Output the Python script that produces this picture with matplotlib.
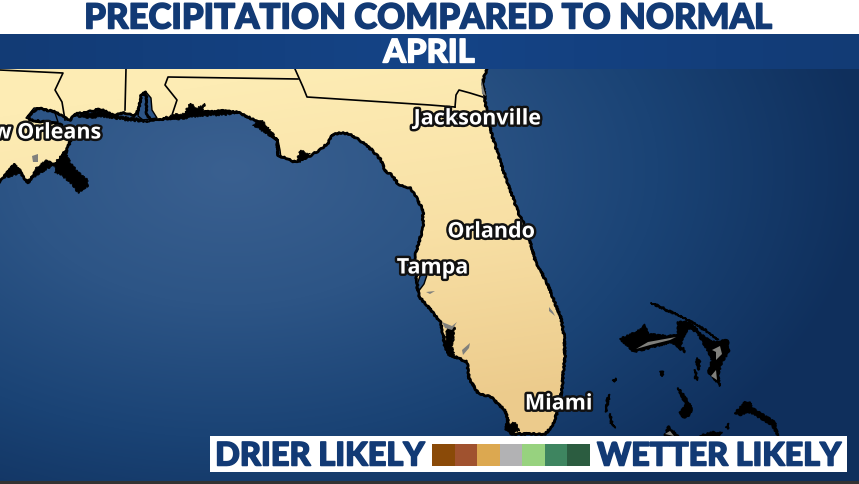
import numpy as np
import matplotlib
matplotlib.use("Agg")
import matplotlib.pyplot as plt
import matplotlib.patheffects as pe
from matplotlib.colors import LinearSegmentedColormap
from matplotlib.patches import Polygon, Rectangle

# map outlines
mainland = [(0,69),(487,69),(483,80),(485,100),(488,118),(492,135),(503,170),(511,192),(518,212),(527,230),
    (535,260),(547,283),(555,303),(561,318),(564,335),(565,357),(563,375),(562,390),(557,413),(552,427),(545,434),
    (512,434),(506,429),(508,420),(505,410),(497,403),(491,397),(478,393),(473,385),(469,378),(467,362),(458,358),
    (450,355),(445,347),(443,335),(441,323),(433,313),(426,304),(419,297),(417,282),(415,268),(415,257),(418,245),
    (423,228),(423,210),(416,197),(410,188),(398,184),(392,175),(385,171),(381,160),(372,150),(362,142),(350,134),
    (341,133),(333,134),(328,143),(320,150),(308,157),(295,162),(285,158),(278,155),(277,140),(268,132),(260,123),
    (250,118),(240,113),(225,111),(205,112),(185,116),(170,118),(157,120),(150,120),(146,112),(147,100),(145,92),
    (141,96),(139,108),(135,116),(125,113),(113,115),(100,109),(88,112),(76,114),(70,120),(65,118),(55,112),
    (38,108),(28,116),(30,120),(60,124),(72,135),(70,142),(66,152),(60,160),(55,165),(48,162),(40,167),(33,175),
    (28,183),(20,172),(14,165),(8,172),(0,182)]
coast_blobs = [
    [(55,163),(65,150),(70,162),(78,172),(88,180),(88,186),(78,193),(72,184),(62,176),(55,172)],
    [(30,180),(36,168),(46,160),(52,166),(42,172)],
    [(3,178),(14,163),(22,172),(12,176)],
    [(163,118),(176,114),(200,113),(222,110),(240,112),(226,115),(200,116),(175,120)],
    [(185,112),(190,103),(197,108),(205,104),(202,113),(185,116)],
    [(74,116),(100,111),(118,116),(135,118),(150,122),(130,121),(105,117),(85,118)],
    [(253,125),(262,120),(270,130),(278,140),(270,136)],
    [(297,160),(300,150),(310,154),(300,162)],
    [(445,345),(447,326),(455,328),(452,345),(455,358),(448,355)],
    [(505,425),(515,422),(520,430),(510,434)],
]
state_lines = [
    [(0,70),(63,73),(55,90),(62,102),(65,120)],
    [(126,69),(125,110)],
    [(172,115),(177,100),(165,85),(168,77),(298,79)],
    [(295,69),(303,87),(307,97),(430,105),(455,107)],
    [(455,107),(456,95),(459,90),(470,93),(483,97)],
]
islands = [
    [(651,303),(665,310),(680,316),(695,324),(708,333),(718,340),(706,330),(692,322),(676,314),(660,306)],
    [(620,339),(640,330),(645,325),(648,334),(668,336),(678,335),(678,322),(690,322),(702,335),(712,342),(728,340),
     (729,352),(722,362),(718,375),(720,386),(712,376),(708,373),(712,360),(706,348),(697,332),(688,328),(682,340),
     (680,350),(672,342),(650,348),(634,352)],
    [(680,348),(685,352),(683,348)],
    [(697,358),(700,362),(699,370),(696,365)],
    [(678,388),(684,395),(692,408),(690,415),(683,418),(680,412),(686,405),(681,395)],
    [(607,398),(610,395),(607,408),(606,412)],
    [(610,414),(613,425),(615,428),(611,424)],
    [(664,438),(668,426),(678,436),(672,438)],
    [(735,413),(745,402),(750,402),(752,408),(762,414),(775,422),(778,436),(772,425),(760,418),(750,412),(740,415)],
    [(700,436),(712,432),(722,433),(718,436)],
    [(726,427),(729,424),(728,429)],
    [(662,376),(664,372),(660,372)],
    [(695,370),(698,380),(695,378)],
    [(613,380),(616,379),(615,382)],
]
gray_patches = [
    [(636,349),(648,342),(676,337),(670,340),(650,345)],
    [(712,350),(720,346),(722,354),(716,360),(716,352)],
    [(711,376),(716,370),(717,380)],
    [(665,434),(670,431),(674,436)],
    [(549,307),(553,312),(555,316),(549,311)],
    [(426,292),(435,291),(430,294)],
    [(442,322),(452,326),(457,322),(452,330),(445,328)],
    [(462,350),(470,343),(469,348),(463,355)],
    [(32,156),(38,154),(38,162),(33,162)],
    [(481,77),(484,90),(486,96),(482,94)],
]
bays = [
    [(26,118),(34,108),(40,108),(55,113),(58,122),(36,122)],
    [(141,96),(146,92),(151,98),(152,110),(157,118),(143,120),(138,116)],
    [(420,276),(428,272),(424,284),(418,292),(416,288)],
    [(449,332),(452,330),(454,340),(450,345)],
    [(278,140),(280,150),(281,158),(277,155)],
]

# city labels
city_names = ["New Orleans", "Jacksonville", "Orlando", "Tampa", "Miami"]
city_right = [101, 541, 535, 468, 592]
city_y = [133, 119, 232, 268, 404]

# legend
scale_colors = ["#8a4a08", "#a0522f", "#dca850", "#b2b2b4", "#97d27f", "#3e8560", "#2b5c40"]
scale_steps = np.arange(len(scale_colors))

title_text = "PRECIPITATION COMPARED TO NORMAL"
month_text = "APRIL"
navy = "#123a75"

fig, ax = plt.subplots(figsize=(8.59, 4.84), dpi=100)
ax.set_position([0, 0, 1, 1])
ax.axis("off")

# sea background, lighter in the middle of the gulf
xx, yy = np.meshgrid(np.arange(859), np.arange(484))
dist = np.sqrt(((xx - 230) / 640) ** 2 + ((yy - 170) / 400) ** 2)
sea_cmap = LinearSegmentedColormap.from_list("sea", ["#3a6090", "#2d5586", "#1a4375", "#0f2f5c"])
ax.imshow(np.clip(dist, 0, 1), cmap=sea_cmap, extent=(0, 859, 484, 0), aspect="auto", zorder=0, vmin=0, vmax=1)

# land with its own gradient
land_cmap = LinearSegmentedColormap.from_list("land", ["#fdecb4", "#f8e0a5", "#eccb8c"])
land_grad = np.clip((yy - 70 + (xx - 300) * 0.15) / 360, 0, 1)
land_img = ax.imshow(land_grad, cmap=land_cmap, extent=(0, 859, 484, 0), aspect="auto", zorder=1, vmin=0, vmax=1)
land_poly = Polygon(mainland, closed=True, transform=ax.transData, fc="none", ec="none")
ax.add_patch(land_poly)
land_img.set_clip_path(land_poly)

# bays drawn with the sea colour
for b in bays:
    ax.add_patch(Polygon(b, closed=True, fc="#2d5586", ec="black", lw=1.0, zorder=2, joinstyle="round"))

# coast only, without the frame edges of the land polygon
coast_x, coast_y = zip(*mainland[1:])
coast, = ax.plot(coast_x, coast_y, color="black", lw=2.0, zorder=3, solid_joinstyle="round")
coast.set_sketch_params(scale=0.7, length=5, randomness=4)
for blob in coast_blobs:
    b = Polygon(blob, closed=True, fc="black", ec="black", lw=0.6, zorder=3)
    b.set_sketch_params(scale=0.8, length=4, randomness=4)
    ax.add_patch(b)
for line in state_lines:
    xs, ys = zip(*line)
    ax.plot(xs, ys, color="black", lw=1.2, zorder=3, solid_joinstyle="round")
for isl in islands:
    i = Polygon(isl, closed=True, fc="black", ec="black", lw=1.2, zorder=3, joinstyle="round")
    i.set_sketch_params(scale=0.7, length=4, randomness=4)
    ax.add_patch(i)
for g in gray_patches:
    ax.add_patch(Polygon(g, closed=True, fc="#80807c", ec="none", zorder=4))

# header
ax.add_patch(Rectangle((0, 0), 859, 34, fc="white", ec="none", zorder=5))
band = np.tile(np.abs(np.linspace(-1, 1, 859)), (2, 1))
band_cmap = LinearSegmentedColormap.from_list("band", ["#154487", "#123b75"])
ax.imshow(band, cmap=band_cmap, extent=(0, 859, 69, 34), aspect="auto", zorder=6)
ax.set_xlim(0, 859)
ax.set_ylim(484, 0)

navy_heavy = [pe.withStroke(linewidth=1.1, foreground=navy)]
ax.text(428.5, 18.5, title_text, color=navy, fontsize=25, fontfamily="Lato", fontweight="black",
        ha="center", va="center", zorder=7, path_effects=navy_heavy)
ax.text(429, 53, month_text, color="white", fontsize=23.5, fontfamily="Lato", fontweight="black",
        ha="center", va="center", zorder=7,
        path_effects=[pe.withStroke(linewidth=1.0, foreground="white")])

# city names
shadow = [pe.withStroke(linewidth=3.5, foreground="#111111")]
for name, right, y in zip(city_names, city_right, city_y):
    ax.text(right, y, name, color="white", fontsize=15.5, fontfamily="Open Sans", fontweight="bold",
            ha="right", va="center", zorder=8, path_effects=shadow)

# legend box
ax.add_patch(Rectangle((210, 436), 637, 36, fc="white", ec="none", zorder=9))
ax.bar(432 + 22.5 * scale_steps, 22, width=22.5, bottom=443.5, align="edge", color=scale_colors, zorder=10)
ax.text(320, 456, "DRIER LIKELY", color=navy, fontsize=23.4, fontfamily="Lato", fontweight="black",
        ha="center", va="center", zorder=10, path_effects=navy_heavy)
ax.text(719.5, 456, "WETTER LIKELY", color=navy, fontsize=23.2, fontfamily="Lato", fontweight="black",
        ha="center", va="center", zorder=10, path_effects=navy_heavy)

# dark strip along the bottom
ax.add_patch(Rectangle((0, 481), 859, 3, fc="#333333", ec="none", zorder=10))

fig.savefig("out.png", dpi=100)
